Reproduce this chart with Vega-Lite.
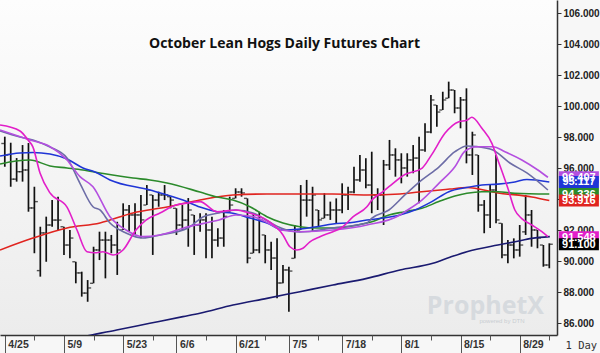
{
  "$schema": "https://vega.github.io/schema/vega-lite/v6.json",
  "width": 557,
  "height": 335,
  "autosize": {"type": "none"},
  "padding": {"left": 0, "top": 0, "right": 43, "bottom": 18},
  "background": "#f7f7f7",
  "view": {"stroke": null, "fill": {"gradient": "linear", "x1": 0, "y1": 0, "x2": 0, "y2": 1, "stops": [{"offset": 0, "color": "#fdfdfd"}, {"offset": 1, "color": "#ececec"}]}},
  "config": {"font": "Liberation Sans"},
  "title": {"text": "October Lean Hogs Daily Futures Chart", "font": "Open Sans", "fontSize": 14, "fontWeight": "bold", "color": "#111111", "anchor": "middle", "baseline": "alphabetic", "offset": -62, "dx": 6},
  "datasets": {
    "bars": [
      {"i":0,"o":97.6,"h":98.04,"l":96.10,"c":96.86},
      {"i":1,"o":96.9,"h":97.65,"l":94.81,"c":95.3},
      {"i":2,"o":95.3,"h":96.66,"l":95.14,"c":95.78},
      {"i":3,"o":95.78,"h":97.50,"l":95.14,"c":95.89},
      {"i":4,"o":95.89,"h":97.63,"l":93.20,"c":93.44},
      {"i":5,"o":93.44,"h":94.81,"l":90.52,"c":93.85},
      {"i":6,"o":89.4,"h":92.23,"l":89.01,"c":91.83},
      {"i":7,"o":91.83,"h":92.88,"l":89.97,"c":92.34},
      {"i":8,"o":92.34,"h":93.95,"l":92.23,"c":92.66},
      {"i":9,"o":92.66,"h":94.17,"l":92.02,"c":92.66},
      {"i":10,"o":92.23,"h":92.23,"l":90.41,"c":91.05},
      {"i":11,"o":91.05,"h":92.02,"l":90.19,"c":91.50},
      {"i":12,"o":89.97,"h":89.97,"l":88.58,"c":89.25},
      {"i":13,"o":89.25,"h":89.33,"l":87.72,"c":87.95},
      {"i":14,"o":87.95,"h":88.79,"l":87.39,"c":88.28},
      {"i":15,"o":88.58,"h":90.94,"l":88.58,"c":90.73},
      {"i":16,"o":90.73,"h":91.91,"l":90.08,"c":91.37},
      {"i":17,"o":91.37,"h":91.91,"l":88.90,"c":91.37},
      {"i":18,"o":91.37,"h":91.70,"l":90.52,"c":91.05},
      {"i":19,"o":91.05,"h":92.55,"l":89.12,"c":90.73},
      {"i":20,"o":92.02,"h":93.74,"l":92.02,"c":93.31},
      {"i":21,"o":93.31,"h":93.63,"l":91.91,"c":92.99},
      {"i":22,"o":92.99,"h":93.74,"l":91.70,"c":92.99},
      {"i":23,"o":92.99,"h":94.28,"l":91.48,"c":92.67},
      {"i":24,"o":93.63,"h":94.92,"l":93.63,"c":94.60},
      {"i":25,"o":94.28,"h":94.28,"l":90.41,"c":93.95},
      {"i":26,"o":93.95,"h":94.49,"l":93.52,"c":94.28},
      {"i":27,"o":94.28,"h":94.92,"l":93.95,"c":94.28},
      {"i":28,"o":94.17,"h":94.17,"l":93.42,"c":93.95},
      {"i":29,"o":93.42,"h":93.42,"l":91.70,"c":92.34},
      {"i":30,"o":92.34,"h":93.63,"l":92.02,"c":92.66},
      {"i":31,"o":92.66,"h":94.08,"l":90.94,"c":93.31},
      {"i":32,"o":92.99,"h":92.99,"l":90.41,"c":92.34},
      {"i":33,"o":92.34,"h":93.10,"l":91.91,"c":92.67},
      {"i":34,"o":92.67,"h":93.10,"l":90.19,"c":92.02},
      {"i":35,"o":92.02,"h":92.88,"l":90.19,"c":91.37},
      {"i":36,"o":91.37,"h":92.13,"l":90.94,"c":91.50},
      {"i":37,"o":91.50,"h":93.31,"l":90.94,"c":92.9},
      {"i":38,"o":93.20,"h":94.17,"l":93.20,"c":93.63},
      {"i":39,"o":94.06,"h":94.71,"l":94.06,"c":94.47},
      {"i":40,"o":94.47,"h":94.71,"l":94.17,"c":94.41},
      {"i":41,"o":94.06,"h":94.06,"l":89.87,"c":90.21},
      {"i":42,"o":90.52,"h":93.10,"l":90.52,"c":90.73},
      {"i":43,"o":90.73,"h":93.20,"l":90.52,"c":92.67},
      {"i":44,"o":91.70,"h":91.70,"l":89.87,"c":90.73},
      {"i":45,"o":90.73,"h":91.26,"l":89.44,"c":90.21},
      {"i":46,"o":90.21,"h":91.48,"l":87.61,"c":88.60},
      {"i":47,"o":88.60,"h":89.76,"l":88.58,"c":89.44},
      {"i":48,"o":89.44,"h":89.65,"l":86.75,"c":89.37},
      {"i":49,"o":90.19,"h":92.34,"l":90.19,"c":92.02},
      {"i":50,"o":92.02,"h":94.92,"l":92.02,"c":93.95},
      {"i":51,"o":93.95,"h":95.25,"l":92.88,"c":93.95},
      {"i":52,"o":93.95,"h":94.81,"l":91.91,"c":94.28},
      {"i":53,"o":93.31,"h":93.31,"l":92.23,"c":92.67},
      {"i":54,"o":92.77,"h":94.39,"l":92.77,"c":92.99},
      {"i":55,"o":92.99,"h":93.85,"l":92.67,"c":93.31},
      {"i":56,"o":93.31,"h":94.06,"l":92.45,"c":93.31},
      {"i":57,"o":93.31,"h":95.03,"l":93.10,"c":94.28},
      {"i":58,"o":94.28,"h":94.81,"l":93.31,"c":94.47},
      {"i":59,"o":94.47,"h":96.10,"l":94.39,"c":95.25},
      {"i":60,"o":95.25,"h":96.86,"l":95.14,"c":95.89},
      {"i":61,"o":95.89,"h":96.65,"l":94.71,"c":94.92},
      {"i":62,"o":94.92,"h":97.07,"l":93.10,"c":94.28},
      {"i":63,"o":94.28,"h":94.71,"l":93.31,"c":94.28},
      {"i":64,"o":94.28,"h":96.54,"l":92.34,"c":96.22},
      {"i":65,"o":96.22,"h":97.83,"l":95.89,"c":96.86},
      {"i":66,"o":96.86,"h":97.29,"l":95.46,"c":96.54},
      {"i":67,"o":96.54,"h":96.97,"l":95.03,"c":96.02},
      {"i":68,"o":96.02,"h":96.97,"l":95.46,"c":96.54},
      {"i":69,"o":96.54,"h":97.50,"l":95.68,"c":96.66},
      {"i":70,"o":96.66,"h":98.04,"l":93.74,"c":97.18},
      {"i":71,"o":97.18,"h":98.90,"l":97.07,"c":98.34},
      {"i":72,"o":98.34,"h":100.73,"l":98.26,"c":100.41},
      {"i":73,"o":100.08,"h":100.08,"l":98.68,"c":99.63},
      {"i":74,"o":99.76,"h":100.94,"l":99.76,"c":100.41},
      {"i":75,"o":100.52,"h":101.59,"l":100.52,"c":101.05},
      {"i":76,"o":101.05,"h":101.05,"l":99.55,"c":99.89},
      {"i":77,"o":99.89,"h":100.60,"l":98.58,"c":100.41},
      {"i":78,"o":100.41,"h":101.16,"l":96.32,"c":96.86},
      {"i":79,"o":96.86,"h":98.36,"l":95.57,"c":98.15},
      {"i":80,"o":96.86,"h":96.86,"l":93.20,"c":93.63},
      {"i":81,"o":93.63,"h":93.95,"l":91.81,"c":92.99},
      {"i":82,"o":92.99,"h":94.92,"l":92.15,"c":94.60},
      {"i":83,"o":94.60,"h":96.86,"l":92.45,"c":92.67},
      {"i":84,"o":92.45,"h":92.45,"l":90.19,"c":90.41},
      {"i":85,"o":90.41,"h":91.37,"l":89.87,"c":91.05},
      {"i":86,"o":91.05,"h":91.48,"l":90.19,"c":90.73},
      {"i":87,"o":90.73,"h":92.34,"l":90.30,"c":91.05},
      {"i":88,"o":91.9,"h":94.28,"l":91.70,"c":92.99},
      {"i":89,"o":92.99,"h":93.31,"l":90.94,"c":92.02},
      {"i":90,"o":92.02,"h":92.02,"l":90.84,"c":91.50},
      {"i":91,"o":91.05,"h":91.05,"l":89.65,"c":89.76},
      {"i":92,"o":89.76,"h":91.16,"l":89.55,"c":91.10}
    ],
    "ma": [
      {"m":"navy","i":5,"p":84.6},{"m":"navy","i":13.26,"p":85.14},{"m":"navy","i":18.9,"p":85.57},{"m":"navy","i":24.5,"p":86.0},{"m":"navy","i":30.1,"p":86.43},{"m":"navy","i":32.97,"p":86.65},{"m":"navy","i":38.55,"p":87.18},{"m":"navy","i":44.29,"p":87.61},{"m":"navy","i":49.86,"p":88.04},{"m":"navy","i":55.44,"p":88.47},{"m":"navy","i":61.18,"p":88.90},{"m":"navy","i":66.76,"p":89.44},{"m":"navy","i":72.33,"p":89.87},{"m":"navy","i":75.2,"p":90.26},{"m":"navy","i":78.07,"p":90.62},{"m":"navy","i":83.31,"p":91.05},{"m":"navy","i":86.2,"p":91.26},{"m":"navy","i":89.05,"p":91.48},{"m":"navy","i":92.09,"p":91.59},
      {"m":"red","i":-0.81,"p":90.73},{"m":"red","i":4.76,"p":91.50},{"m":"red","i":10.51,"p":92.15},{"m":"red","i":16.08,"p":92.47},{"m":"red","i":21.66,"p":93.12},{"m":"red","i":27.4,"p":93.50},{"m":"red","i":32.97,"p":93.95},{"m":"red","i":38.55,"p":94.28},{"m":"red","i":44.29,"p":94.34},{"m":"red","i":49.86,"p":94.34},{"m":"red","i":55.44,"p":94.34},{"m":"red","i":61.18,"p":94.28},{"m":"red","i":66.76,"p":94.34},{"m":"red","i":69.97,"p":94.47},{"m":"red","i":75.2,"p":94.66},{"m":"red","i":78.07,"p":94.76},{"m":"red","i":83.31,"p":94.41},{"m":"red","i":89.05,"p":94.15},{"m":"red","i":92.0,"p":93.92},
      {"m":"green","i":-0.81,"p":96.28},{"m":"green","i":1.89,"p":96.47},{"m":"green","i":4.26,"p":96.54},{"m":"green","i":7.64,"p":96.15},{"m":"green","i":10.51,"p":96.02},{"m":"green","i":13.21,"p":95.89},{"m":"green","i":16.08,"p":95.70},{"m":"green","i":21.66,"p":95.37},{"m":"green","i":24.53,"p":95.25},{"m":"green","i":27.4,"p":95.05},{"m":"green","i":32.97,"p":94.47},{"m":"green","i":35.85,"p":94.15},{"m":"green","i":38.55,"p":93.95},{"m":"green","i":41.42,"p":93.52},{"m":"green","i":44.29,"p":92.88},{"m":"green","i":47,"p":92.47},{"m":"green","i":49.86,"p":92.23},{"m":"green","i":52.74,"p":92.15},{"m":"green","i":55.44,"p":92.15},{"m":"green","i":61.18,"p":92.47},{"m":"green","i":62.03,"p":92.55},{"m":"green","i":64.9,"p":92.99},{"m":"green","i":67.6,"p":93.20},{"m":"green","i":70.47,"p":93.42},{"m":"green","i":73.34,"p":93.85},{"m":"green","i":76.05,"p":94.21},{"m":"green","i":78.07,"p":94.39},{"m":"green","i":80.61,"p":94.49},{"m":"green","i":83.31,"p":94.49},{"m":"green","i":86.18,"p":94.39},{"m":"green","i":92.0,"p":94.34},
      {"m":"blue","i":-0.81,"p":96.79},{"m":"blue","i":2.57,"p":96.99},{"m":"blue","i":4.76,"p":97.02},{"m":"blue","i":7.64,"p":96.92},{"m":"blue","i":10.51,"p":96.60},{"m":"blue","i":13.21,"p":96.02},{"m":"blue","i":15.24,"p":95.76},{"m":"blue","i":17.77,"p":95.25},{"m":"blue","i":24.53,"p":94.60},{"m":"blue","i":30.1,"p":93.95},{"m":"blue","i":32.97,"p":93.50},{"m":"blue","i":35.85,"p":93.20},{"m":"blue","i":38.55,"p":93.10},{"m":"blue","i":41.42,"p":92.79},{"m":"blue","i":44.29,"p":92.47},{"m":"blue","i":47,"p":92.02},{"m":"blue","i":49.86,"p":92.08},{"m":"blue","i":52.74,"p":92.23},{"m":"blue","i":55.44,"p":92.41},{"m":"blue","i":58.31,"p":92.49},{"m":"blue","i":61.18,"p":92.66},{"m":"blue","i":63.89,"p":92.79},{"m":"blue","i":66.76,"p":92.99},{"m":"blue","i":69.29,"p":93.31},{"m":"blue","i":72.16,"p":93.85},{"m":"blue","i":75.03,"p":94.49},{"m":"blue","i":78.07,"p":94.76},{"m":"blue","i":80.61,"p":94.92},{"m":"blue","i":83.31,"p":94.98},{"m":"blue","i":86.18,"p":95.12},{"m":"blue","i":88.21,"p":95.28},{"m":"blue","i":92.0,"p":95.12},
      {"m":"slate","i":-0.81,"p":98.41},{"m":"slate","i":2.57,"p":98.02},{"m":"slate","i":4.76,"p":97.83},{"m":"slate","i":7.64,"p":97.37},{"m":"slate","i":10.51,"p":96.66},{"m":"slate","i":12.7,"p":95.03},{"m":"slate","i":14.9,"p":93.52},{"m":"slate","i":16.08,"p":93.31},{"m":"slate","i":17.77,"p":92.47},{"m":"slate","i":20.47,"p":91.83},{"m":"slate","i":23.34,"p":91.50},{"m":"slate","i":26.22,"p":91.70},{"m":"slate","i":30.95,"p":92.15},{"m":"slate","i":33.48,"p":92.86},{"m":"slate","i":36.18,"p":93.12},{"m":"slate","i":39.05,"p":93.31},{"m":"slate","i":41.93,"p":93.12},{"m":"slate","i":44.63,"p":92.55},{"m":"slate","i":46.66,"p":92.15},{"m":"slate","i":49.86,"p":91.89},{"m":"slate","i":55.44,"p":92.15},{"m":"slate","i":61.18,"p":92.47},{"m":"slate","i":62.03,"p":92.79},{"m":"slate","i":64.9,"p":93.31},{"m":"slate","i":67.6,"p":94.28},{"m":"slate","i":70.47,"p":95.25},{"m":"slate","i":73.34,"p":96.08},{"m":"slate","i":76.05,"p":97.07},{"m":"slate","i":78.07,"p":97.44},{"m":"slate","i":79.76,"p":97.40},{"m":"slate","i":82.47,"p":97.18},{"m":"slate","i":85.34,"p":96.34},{"m":"slate","i":88.21,"p":95.70},{"m":"slate","i":91.76,"p":94.60},
      {"m":"violet","i":-0.81,"p":98.47},{"m":"violet","i":4.26,"p":97.83},{"m":"violet","i":7.64,"p":97.40},{"m":"violet","i":10.51,"p":96.54},{"m":"violet","i":12.7,"p":95.46},{"m":"violet","i":14.9,"p":94.81},{"m":"violet","i":17.77,"p":92.88},{"m":"violet","i":20.47,"p":92.02},{"m":"violet","i":23.34,"p":91.59},{"m":"violet","i":26.22,"p":91.70},{"m":"violet","i":30.95,"p":92.23},{"m":"violet","i":36.18,"p":92.66},{"m":"violet","i":39.05,"p":92.99},{"m":"violet","i":41.93,"p":92.88},{"m":"violet","i":44.63,"p":92.44},{"m":"violet","i":46.66,"p":92.02},{"m":"violet","i":49.86,"p":91.91},{"m":"violet","i":55.44,"p":92.02},{"m":"violet","i":61.18,"p":92.34},{"m":"violet","i":66.76,"p":92.99},{"m":"violet","i":67.6,"p":93.20},{"m":"violet","i":70.47,"p":93.95},{"m":"violet","i":73.34,"p":95.03},{"m":"violet","i":76.05,"p":96.10},{"m":"violet","i":77.74,"p":97.1},{"m":"violet","i":79.76,"p":97.39},{"m":"violet","i":82.47,"p":97.39},{"m":"violet","i":84.5,"p":97.07},{"m":"violet","i":87.36,"p":96.54},{"m":"violet","i":90.07,"p":95.89},{"m":"violet","i":91.76,"p":95.42},
      {"m":"magenta","i":-0.81,"p":98.79},{"m":"magenta","i":2.57,"p":98.41},{"m":"magenta","i":3.92,"p":97.83},{"m":"magenta","i":4.76,"p":97.37},{"m":"magenta","i":5.95,"p":95.70},{"m":"magenta","i":7.64,"p":94.41},{"m":"magenta","i":10.51,"p":93.50},{"m":"magenta","i":12.2,"p":92.02},{"m":"magenta","i":13.89,"p":90.62},{"m":"magenta","i":15.24,"p":90.55},{"m":"magenta","i":16.59,"p":90.62},{"m":"magenta","i":18.28,"p":90.41},{"m":"magenta","i":19.97,"p":90.73},{"m":"magenta","i":22.16,"p":92.02},{"m":"magenta","i":23.85,"p":92.66},{"m":"magenta","i":26.22,"p":93.12},{"m":"magenta","i":28.92,"p":93.63},{"m":"magenta","i":30.95,"p":93.76},{"m":"magenta","i":32.97,"p":93.85},{"m":"magenta","i":35.85,"p":93.20},{"m":"magenta","i":39.05,"p":93.31},{"m":"magenta","i":41.42,"p":93.10},{"m":"magenta","i":44.29,"p":92.66},{"m":"magenta","i":47,"p":91.70},{"m":"magenta","i":48.17,"p":90.94},{"m":"magenta","i":49.36,"p":90.73},{"m":"magenta","i":50.37,"p":90.84},{"m":"magenta","i":51.55,"p":91.26},{"m":"magenta","i":53.24,"p":91.59},{"m":"magenta","i":55.44,"p":91.91},{"m":"magenta","i":57.13,"p":92.23},{"m":"magenta","i":58.82,"p":92.86},{"m":"magenta","i":61.18,"p":93.52},{"m":"magenta","i":62.03,"p":93.95},{"m":"magenta","i":63.89,"p":94.5},{"m":"magenta","i":64.9,"p":94.81},{"m":"magenta","i":67.6,"p":95.6},{"m":"magenta","i":70.47,"p":96.0},{"m":"magenta","i":72.16,"p":96.9},{"m":"magenta","i":74.36,"p":98.26},{"m":"magenta","i":76.72,"p":99.01},{"m":"magenta","i":78.07,"p":99.1},{"m":"magenta","i":78.92,"p":99.29},{"m":"magenta","i":80.61,"p":98.58},{"m":"magenta","i":82.3,"p":97.61},{"m":"magenta","i":83.31,"p":96.54},{"m":"magenta","i":85.0,"p":94.71},{"m":"magenta","i":86.18,"p":93.31},{"m":"magenta","i":87.3,"p":92.77},{"m":"magenta","i":89.05,"p":92.34},{"m":"magenta","i":90.74,"p":91.91},{"m":"magenta","i":91.76,"p":91.59}
    ],
    "tags": [
      {"m":"violet","v":"96.407","at":95.42},
      {"m":"blue","v":"95.117","at":95.12},
      {"m":"green","v":"94.336","at":94.34},
      {"m":"red","v":"93.916","at":93.92},
      {"m":"magenta","v":"91.548","at":91.55},
      {"m":"last","v":"91.100","at":91.10}
    ]
  },
  "resolve": {"scale": {"x": "shared", "y": "shared", "color": "shared"}, "axis": {"x": "independent", "y": "independent"}},
  "layer": [
    {
      "data": {"name": "bars"},
      "mark": {"type": "rule", "color": "#111111", "strokeWidth": 1.7},
      "encoding": {
        "x": {"field": "i", "type": "quantitative",
              "scale": {"domain": [-0.81, 93.3], "nice": false, "zero": false},
              "axis": {"orient": "bottom", "values": [0,10,20,29,39,48,57,67,77,87], "labels": false, "tickSize": 18, "tickColor": "#555555", "tickWidth": 1, "domain": true, "domainColor": "#333333", "domainWidth": 1.5, "grid": false, "title": null}},
        "y": {"field": "l", "type": "quantitative",
              "scale": {"domain": [85.245, 106.858], "nice": false, "zero": false},
              "axis": {"orient": "right", "zindex": 0, "labels": true, "values": [86,88,90,92,94,96,98,100,102,104,106], "format": ".3f", "labelFont": "Liberation Sans", "labelFontSize": 10, "labelFontWeight": "bold", "labelColor": "#222222", "labelAlign": "left", "labelBaseline": "middle", "labelOverlap": false, "labelFlush": false, "tickSize": 4, "tickColor": "#333333", "labelPadding": 2, "domain": true, "domainColor": "#333333", "domainWidth": 1.5, "grid": false, "title": null}},
        "y2": {"field": "h"}
      }
    },
    {
      "data": {"name": "bars"},
      "mark": {"type": "tick", "orient": "horizontal", "size": 3, "thickness": 1.4, "xOffset": 2, "color": "#111111"},
      "encoding": {
        "x": {"field": "i", "type": "quantitative",
              "axis": {"orient": "bottom", "values": [0,10,20,29,39,48,57,67,77,87], "ticks": false, "domain": false, "grid": false, "title": null, "labelAlign": "left", "labelBaseline": "top", "labelPadding": 4, "labelOffset": 3, "labelFontSize": 10.5, "labelFontWeight": "bold", "labelColor": "#333333", "labelFlush": false, "labelOverlap": false,
                       "labelExpr": "['4/25','5/9','5/23','6/6','6/21','7/5','7/18','8/1','8/15','8/29'][indexof([0,10,20,29,39,48,57,67,77,87], datum.value)]"}},
        "y": {"field": "c", "type": "quantitative",
              "axis": {"orient": "right", "values": [86], "labels": false, "ticks": false, "domain": false, "grid": false,
                       "title": "1 Day", "titleAngle": 0, "titleX": 8, "titleY": 345, "titleAlign": "left", "titleBaseline": "middle", "titleFont": "DejaVu Sans Mono", "titleFontSize": 10.5, "titleFontWeight": "normal", "titleColor": "#333333"}}
      }
    },
    {
      "data": {"name": "bars"},
      "mark": {"type": "tick", "orient": "horizontal", "size": 3, "thickness": 1.4, "xOffset": -2, "color": "#111111"},
      "encoding": {
        "x": {"field": "i", "type": "quantitative",
              "axis": {"orient": "bottom", "values": [5,15,25,34,44,53,62,72,82,92], "labels": false, "tickSize": 5, "tickColor": "#555555", "domain": false, "grid": false, "title": null}},
        "y": {"field": "o", "type": "quantitative", "axis": null}
      }
    },
    {
      "data": {"name": "ma"},
      "mark": {"type": "line", "strokeWidth": 1.6, "clip": true, "interpolate": "monotone"},
      "encoding": {
        "x": {"field": "i", "type": "quantitative", "axis": null},
        "y": {"field": "p", "type": "quantitative", "axis": null},
        "color": {"field": "m", "type": "nominal", "legend": null,
                  "scale": {"domain": ["magenta","violet","slate","blue","green","red","navy","last"],
                            "range": ["#e21fc9","#b44fe0","#6c6ca6","#1f35d6","#2b8a2b","#e0241f","#1a1a70","#000000"]}}
      }
    },
    {
      "data": {"name": "tags"},
      "mark": {"type": "point", "filled": true, "opacity": 1, "clip": false, "size": 1600, "shape": "M-1,-0.3L1,-0.3L1,0.3L-1,0.3Z"},
      "encoding": {
        "x": {"datum": 97.0, "type": "quantitative", "axis": null},
        "y": {"field": "at", "type": "quantitative", "axis": null},
        "color": {"field": "m", "type": "nominal", "legend": null}
      }
    },
    {
      "data": {"name": "tags"},
      "mark": {"type": "text", "clip": false, "color": "#ffffff", "fontSize": 11, "fontWeight": "bold", "align": "center", "baseline": "middle", "dy": 0.5},
      "encoding": {
        "x": {"datum": 97.0, "type": "quantitative", "axis": null},
        "y": {"field": "at", "type": "quantitative", "axis": null},
        "text": {"field": "v"}
      }
    },
    {
      "data": {"values": [{}]},
      "mark": {"type": "text", "color": "#d6dade", "fontSize": 25, "fontWeight": "bold", "font": "Open Sans", "align": "center", "baseline": "alphabetic"},
      "encoding": {
        "x": {"datum": 81.2, "type": "quantitative", "axis": null},
        "y": {"datum": 86.6, "type": "quantitative", "axis": null},
        "text": {"value": "ProphetX"}
      }
    },
    {
      "data": {"values": [{}]},
      "mark": {"type": "text", "color": "#c9cdd2", "fontSize": 6, "align": "center", "baseline": "alphabetic"},
      "encoding": {
        "x": {"datum": 84.0, "type": "quantitative", "axis": null},
        "y": {"datum": 86.0, "type": "quantitative", "axis": null},
        "text": {"value": "powered by DTN"}
      }
    }
  ]
}
